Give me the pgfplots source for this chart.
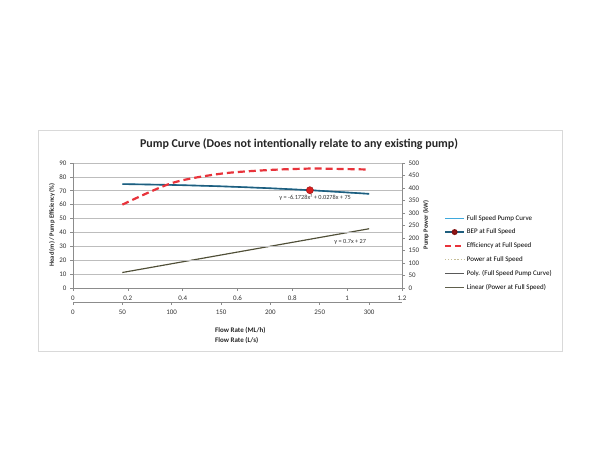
\documentclass[border=0pt]{standalone}
\usepackage{pgfplots}
\pgfplotsset{compat=1.18}
\usepackage{fontspec}
\setmainfont{Carlito}

\definecolor{pumpdark}{HTML}{1F5E7E}
\definecolor{pumplight}{HTML}{3FA9DD}
\definecolor{effred}{HTML}{E8333B}
\definecolor{bepred}{HTML}{D81E1E}
\definecolor{powerdot}{HTML}{C4BD97}
\definecolor{linegrey}{HTML}{4D4D38}
\definecolor{axisgrey}{HTML}{8C8C8C}
\definecolor{gridgrey}{HTML}{BDBDBD}

\pgfplotsset{
  excel/.style={
    scale only axis,
    width=329bp, height=125bp,
    at={(73bp,175bp)}, anchor=south west,
    tick label style={font=\fontsize{7}{8}\selectfont, text=black!80},
    /pgf/number format/assume math mode=true,
    axis line style={axisgrey, -},
    tick style={axisgrey, line width=0.6bp},
    tick align=outside,
    major tick length=3bp,
  },
}

\begin{document}
\begin{tikzpicture}[x=1bp, y=1bp]
  \useasboundingbox (0,0) rectangle (600,463);
  \fill[white] (0,0) rectangle (600,463);
  % chart frame
  \draw[black!15, line width=1bp] (38,{463-131}) rectangle (562,{463-352});

  % secondary axes: power against flow in L/s
  \begin{axis}[excel,
      xmin=0, xmax=333.333, ymin=0, ymax=500,
      axis y line*=right, axis x line*=bottom,
      x axis line style={yshift=-14bp},
      xtick style={yshift=-14bp},
      xticklabel style={yshift=-15bp},
      xtick={0,50,...,300},
      ytick={0,50,...,500},
    ]
    \addplot[powerdot, dotted, line width=1.2bp, forget plot] coordinates {
      (50,62) (100,97) (150,132) (200,167) (250,202) (300,237)};
    \addplot[linegrey, line width=1.1bp, forget plot] coordinates {
      (50,62) (300,237)};
  \end{axis}

  % primary axes: head and efficiency against flow in ML/h
  \begin{axis}[excel,
      xmin=0, xmax=1.2, ymin=0, ymax=90,
      axis y line*=left, axis x line*=bottom,
      xtick={0,0.2,...,1.2},
      ytick={0,10,...,90},
      xticklabel style={yshift=-1bp},
      ymajorgrids,
      grid style={gridgrey, line width=0.7bp},
      legend style={draw=none, fill=none,
        at={(axis description cs:1.128,0.6)}, anchor=north west,
        font=\fontsize{7}{8}\selectfont, row sep=3.4bp,
        inner sep=0pt, cells={anchor=west}},
      legend image code/.code={\draw[mark repeat=2, mark phase=2, #1]
        plot coordinates {(0bp,0bp) (9.5bp,0bp) (19bp,0bp)};},
    ]
    % full speed pump curve (trendline drawn over it)
    \addplot[pumplight, line width=1.2bp, smooth, forget plot] coordinates {
      (0.18,74.8) (0.36,74.2) (0.54,73.2) (0.72,71.8) (0.864,70.4) (0.9,70.0) (1.08,67.8)};
    \addplot[pumpdark, line width=1.6bp, smooth, forget plot] coordinates {
      (0.18,74.8) (0.36,74.2) (0.54,73.2) (0.72,71.8) (0.864,70.4) (0.9,70.0) (1.08,67.8)};
    % efficiency
    \addplot[effred, line width=2.2bp, dash pattern=on 7bp off 4bp, smooth, forget plot] coordinates {
      (0.18,60) (0.36,75.5) (0.54,82.3) (0.72,85.0) (0.864,86.0) (0.9,86.0) (1.08,85.3)};
    % best efficiency point
    \addplot[only marks, mark=*, mark size=3.6bp, mark options={fill=bepred, draw=bepred!70!black}, forget plot]
      coordinates {(0.864,70.4)};

    \node[font=\fontsize{6.3}{7}\selectfont, text=black!80] at (axis cs:0.883,64.8)
      {y = -6.1728x² + 0.0278x + 75};
    \node[font=\fontsize{6.3}{7}\selectfont, text=black!80] at (axis cs:1.011,33.3)
      {y = 0.7x + 27};

    \addlegendimage{draw=pumplight, line width=1.5bp}
    \addlegendentry{Full Speed Pump Curve}
    \addlegendimage{draw=pumpdark, line width=1.5bp, mark=*, mark size=2.2bp, mark options={fill=bepred!70!black, draw=bepred!60!black}}
    \addlegendentry{BEP at Full Speed}
    \addlegendimage{draw=effred, line width=1.6bp, dash pattern=on 6bp off 4bp}
    \addlegendentry{Efficiency at Full Speed}
    \addlegendimage{draw=powerdot, dotted, line width=1.1bp}
    \addlegendentry{Power at Full Speed}
    \addlegendimage{draw=black!65, line width=0.8bp}
    \addlegendentry{Poly. (Full Speed Pump Curve)}
    \addlegendimage{draw=linegrey!90, line width=0.8bp}
    \addlegendentry{Linear (Power at Full Speed)}
  \end{axis}

  % titles and axis titles
  \node[font=\bfseries\fontsize{12}{14}\selectfont, text=black!85] at (299,{463-144})
    {Pump Curve (Does not intentionally relate to any existing pump)};
  \node[rotate=90, font=\bfseries\fontsize{6.5}{7}\selectfont, text=black!85] at (52,{463-225})
    {Head (m) / Pump Efficiency (\%)};
  \node[rotate=90, font=\bfseries\fontsize{6.5}{7}\selectfont, text=black!85] at (426,{463-225})
    {Pump Power (kW)};
  \node[anchor=west, font=\bfseries\fontsize{7}{8}\selectfont, text=black!85, inner sep=0pt] at (215,{463-330})
    {Flow Rate (ML/h)};
  \node[anchor=west, font=\bfseries\fontsize{7}{8}\selectfont, text=black!85, inner sep=0pt] at (215,{463-340})
    {Flow Rate (L/s)};
\end{tikzpicture}
\end{document}
